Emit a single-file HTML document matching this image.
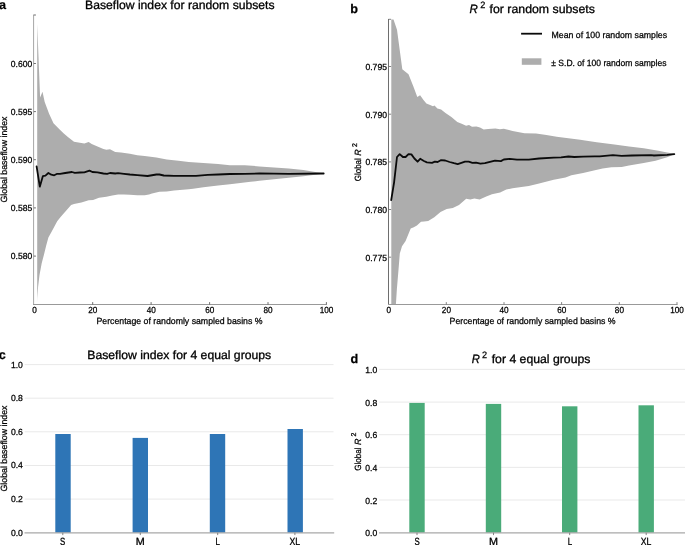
<!DOCTYPE html>
<html lang="en"><head><meta charset="utf-8"><title>Random subsets and equal groups</title>
<style>
html,body{margin:0;padding:0;background:#fff;}
body{width:685px;height:545px;overflow:hidden;}
svg{display:block;}
text{font-family:"Liberation Sans", sans-serif;text-rendering:geometricPrecision;fill:#000;stroke:#000;stroke-width:0.25px;}
.t{font-size:12.0px;stroke-width:0.3px;}
.s{font-size:8.8px;}
.s2{font-size:8.9px;}
.l{font-size:9.0px;stroke-width:0.25px;}
.c{font-size:10.5px;stroke-width:0.3px;}
.b{font-size:12.6px;font-weight:bold;fill:#000;}
.i{font-style:italic;}
</style></head><body>
<svg width="685" height="545" viewBox="0 0 685 545">
<rect width="685" height="545" fill="#fff"/>
<g id="panel-a">
<polygon points="37.2,24.0 40.1,97.6 42.5,91.7 44.7,102.0 49.1,113.8 53.5,123.3 59.4,129.2 63.8,133.6 68.2,137.3 74.0,141.7 79.9,142.7 84.3,143.4 88.7,142.0 91.7,143.9 97.5,146.4 103.4,149.0 106.4,149.8 110.0,149.3 115.2,152.0 121.0,152.4 129.9,153.7 137.3,155.3 144.7,156.1 156.4,157.6 166.7,159.4 178.5,160.8 188.7,162.0 203.4,163.0 218.1,164.1 229.9,165.2 244.7,165.2 259.4,166.4 274.0,167.4 288.7,168.5 303.4,169.9 315.2,171.9 323.7,173.3 323.7,173.6 315.2,174.8 303.4,176.3 288.7,177.7 274.0,179.2 259.4,180.7 250.6,181.8 240.3,182.9 229.9,184.3 218.1,185.5 203.4,187.3 193.1,188.7 188.7,189.2 174.0,190.6 166.7,191.4 159.4,191.7 152.0,193.4 149.0,194.6 144.7,195.3 137.3,195.3 129.9,194.8 124.0,194.5 118.1,194.5 112.2,195.5 106.4,196.7 99.0,197.7 93.1,199.9 88.7,200.2 81.4,202.6 74.0,204.0 71.1,205.0 65.2,211.7 60.8,216.8 57.2,221.2 52.0,231.0 48.4,237.5 46.2,245.6 44.0,254.4 41.7,263.2 39.5,275.0 38.1,286.7 37.3,298.4 37.2,303.6" fill="#adadad"/>
<polyline points="36.6,166.4 39.8,186.7 42.9,176.1 45.4,175.7 48.4,173.0 51.3,174.7 54.2,175.3 57.2,173.8 60.1,173.9 65.2,173.0 71.9,172.0 74.8,172.9 79.9,172.5 84.3,172.3 89.5,170.6 92.4,172.0 97.5,172.3 103.4,173.5 107.1,173.9 110.0,173.0 115.2,173.5 118.1,173.2 124.0,173.8 129.9,174.5 137.3,175.2 147.6,176.0 156.4,174.5 159.4,174.5 163.8,175.5 174.0,175.8 188.7,175.8 196.0,175.8 207.8,174.8 218.1,174.5 229.9,174.0 244.7,173.9 259.4,173.5 274.0,173.6 288.7,173.8 323.7,173.5" fill="none" stroke="#0a0a0a" stroke-width="1.8" stroke-linejoin="round" stroke-linecap="round"/>
<path d="M33.6,14.6V305.0" fill="none" stroke="#a6a6a6" stroke-width="1"/>
<path d="M33.1,304.5H326.8" fill="none" stroke="#999" stroke-width="1"/>
<path d="M33.8,15.0h2.1M33.8,63.5h2.1M33.8,111.6h2.1M33.8,159.7h2.1M33.8,207.9h2.1M33.8,256.1h2.1M92.7,304.5v-2.4M151.1,304.5v-2.4M209.6,304.5v-2.4M268.0,304.5v-2.4M326.4,304.5v-2.4" fill="none" stroke="#4a4a4a" stroke-width="0.8"/>
<text x="32.2" y="66.8" class="s" text-anchor="end" textLength="21.4" lengthAdjust="spacingAndGlyphs">0.600</text>
<text x="32.2" y="114.89999999999999" class="s" text-anchor="end" textLength="21.4" lengthAdjust="spacingAndGlyphs">0.595</text>
<text x="32.2" y="163.0" class="s" text-anchor="end" textLength="21.4" lengthAdjust="spacingAndGlyphs">0.590</text>
<text x="32.2" y="211.20000000000002" class="s" text-anchor="end" textLength="21.4" lengthAdjust="spacingAndGlyphs">0.585</text>
<text x="32.2" y="259.40000000000003" class="s" text-anchor="end" textLength="21.4" lengthAdjust="spacingAndGlyphs">0.580</text>
<text x="34.4" y="312.7" class="s2" text-anchor="middle" textLength="4.55" lengthAdjust="spacingAndGlyphs">0</text>
<text x="92.8" y="312.7" class="s2" text-anchor="middle" textLength="9.1" lengthAdjust="spacingAndGlyphs">20</text>
<text x="151.2" y="312.7" class="s2" text-anchor="middle" textLength="9.1" lengthAdjust="spacingAndGlyphs">40</text>
<text x="209.7" y="312.7" class="s2" text-anchor="middle" textLength="9.1" lengthAdjust="spacingAndGlyphs">60</text>
<text x="268.1" y="312.7" class="s2" text-anchor="middle" textLength="9.1" lengthAdjust="spacingAndGlyphs">80</text>
<text x="326.5" y="312.7" class="s2" text-anchor="middle" textLength="13.649999999999999" lengthAdjust="spacingAndGlyphs">100</text>
<text x="179.5" y="324.0" class="l" text-anchor="middle" textLength="166" lengthAdjust="spacingAndGlyphs">Percentage of randomly sampled basins %</text>
<text class="l" text-anchor="middle" textLength="86" lengthAdjust="spacingAndGlyphs" transform="translate(7.2,159.5) rotate(-90)">Global baseflow index</text>
<text x="85.1" y="9.1" class="t" textLength="189.5" lengthAdjust="spacingAndGlyphs">Baseflow index for random subsets</text>
<text x="-1.0" y="8.7" class="b">a</text>
</g>
<g id="panel-b">
<polygon points="391.3,19.4 393.5,19.4 397.0,29.7 402.3,69.3 408.5,74.2 413.2,86.0 417.3,97.0 420.1,95.3 423.5,100.0 426.4,103.6 430.1,105.1 433.0,106.3 434.5,105.5 437.4,108.5 441.1,109.5 445.5,112.9 451.4,116.9 457.3,122.0 461.7,123.8 466.1,125.7 469.0,124.9 472.0,126.7 476.4,126.4 480.0,127.6 483.7,129.6 488.1,129.0 495.4,128.6 499.9,129.3 503.8,128.8 512.6,130.9 524.4,133.2 536.1,133.5 546.4,135.0 556.7,136.7 568.4,138.2 580.2,139.8 585.0,140.5 596.7,142.3 614.4,144.5 629.0,146.4 643.7,148.2 658.4,150.8 667.2,152.6 674.3,153.8 674.3,154.3 667.2,157.3 655.5,160.7 643.7,162.9 629.0,165.5 621.7,167.0 611.4,167.3 602.6,168.4 593.8,170.6 583.1,173.1 571.4,175.3 565.5,177.5 553.7,179.7 539.1,183.4 528.8,186.1 521.4,187.1 512.5,188.3 506.3,189.5 500.1,192.6 491.9,194.3 485.7,196.7 479.6,199.4 474.4,198.4 470.3,199.4 466.2,198.8 459.0,205.0 452.8,208.0 446.7,209.1 440.5,212.1 434.3,217.3 428.2,221.0 424.1,221.4 421.0,221.8 416.9,225.5 413.8,227.2 410.7,228.6 405.6,240.9 402.0,246.2 399.8,253.5 398.4,271.1 396.9,288.7 395.9,304.2 391.3,304.2" fill="#adadad"/>
<polyline points="391.2,200.2 394.1,182.3 397.0,157.0 399.7,154.1 402.9,157.0 405.6,157.0 408.5,154.1 411.4,154.4 414.4,158.5 417.6,161.7 420.2,158.8 423.9,161.0 426.9,162.4 432.0,162.9 434.9,161.7 437.6,162.0 440.8,160.2 445.2,160.5 449.6,162.0 454.0,163.2 457.7,164.1 461.4,162.9 465.0,161.7 468.7,161.7 472.4,162.9 476.0,162.6 480.4,163.6 484.9,163.2 495.0,160.7 500.9,161.1 503.8,159.5 509.7,158.8 517.0,159.6 528.8,159.6 539.1,158.5 553.7,157.7 561.1,157.3 568.4,156.5 574.3,157.0 583.1,156.7 594.9,156.3 599.7,156.3 612.9,155.2 621.7,155.8 632.0,155.5 651.1,155.1 654.0,155.5 667.2,154.8 674.3,154.1" fill="none" stroke="#0a0a0a" stroke-width="1.8" stroke-linejoin="round" stroke-linecap="round"/>
<path d="M388.5,18.900000000000002V305.0" fill="none" stroke="#6e6e6e" stroke-width="1"/>
<path d="M388,304.5H677.5" fill="none" stroke="#999" stroke-width="1"/>
<path d="M389,19.3h2.1M389,66.5h2.1M389,114.2h2.1M389,161.9h2.1M389,209.5h2.1M389,257.2h2.1M446.3,304.5v-2.4M504.0,304.5v-2.4M561.6,304.5v-2.4M619.3,304.5v-2.4M677.0,304.5v-2.4" fill="none" stroke="#666" stroke-width="0.8"/>
<text x="387.0" y="69.8" class="s" text-anchor="end" textLength="21.6" lengthAdjust="spacingAndGlyphs">0.795</text>
<text x="387.0" y="117.5" class="s" text-anchor="end" textLength="21.6" lengthAdjust="spacingAndGlyphs">0.790</text>
<text x="387.0" y="165.20000000000002" class="s" text-anchor="end" textLength="21.6" lengthAdjust="spacingAndGlyphs">0.785</text>
<text x="387.0" y="212.8" class="s" text-anchor="end" textLength="21.6" lengthAdjust="spacingAndGlyphs">0.780</text>
<text x="387.0" y="260.5" class="s" text-anchor="end" textLength="21.6" lengthAdjust="spacingAndGlyphs">0.775</text>
<text x="388.7" y="312.7" class="s2" text-anchor="middle" textLength="4.55" lengthAdjust="spacingAndGlyphs">0</text>
<text x="446.4" y="312.7" class="s2" text-anchor="middle" textLength="9.1" lengthAdjust="spacingAndGlyphs">20</text>
<text x="504.1" y="312.7" class="s2" text-anchor="middle" textLength="9.1" lengthAdjust="spacingAndGlyphs">40</text>
<text x="561.7" y="312.7" class="s2" text-anchor="middle" textLength="9.1" lengthAdjust="spacingAndGlyphs">60</text>
<text x="619.4" y="312.7" class="s2" text-anchor="middle" textLength="9.1" lengthAdjust="spacingAndGlyphs">80</text>
<text x="677.1" y="312.7" class="s2" text-anchor="middle" textLength="13.649999999999999" lengthAdjust="spacingAndGlyphs">100</text>
<text x="532.6" y="324.0" class="l" text-anchor="middle" textLength="166" lengthAdjust="spacingAndGlyphs">Percentage of randomly sampled basins %</text>
<g transform="translate(361.3,181.3) rotate(-90)"><text class="l" x="0" y="0" textLength="23.1" lengthAdjust="spacingAndGlyphs">Global</text><text class="l i" x="25.5" y="0">R</text><text x="34.2" y="-4.7" font-size="7">2</text></g>
<text x="469.6" y="12.7" class="t i" textLength="8.3" lengthAdjust="spacingAndGlyphs">R</text>
<text x="480.3" y="8.2" font-size="9.2" textLength="5.1" lengthAdjust="spacingAndGlyphs" stroke-width="0.2">2</text>
<text x="489.6" y="12.7" class="t" textLength="105.3" lengthAdjust="spacingAndGlyphs">for random subsets</text>
<text x="350.2" y="13.3" class="b">b</text>
<path d="M521.1,33.7H542" stroke="#0a0a0a" stroke-width="1.8" fill="none"/>
<rect x="521.8" y="58.3" width="19.6" height="6.5" fill="#adadad"/>
<text x="551.5" y="37.5" class="l" textLength="115.6" lengthAdjust="spacingAndGlyphs">Mean of 100 random samples</text>
<text x="551.3" y="65.5" class="l" textLength="115.2" lengthAdjust="spacingAndGlyphs">± S.D. of 100 random samples</text>
</g>
<g id="panel-c">
<path d="M24.7,364.6H333.5M24.7,398.2H333.5M24.7,431.8H333.5M24.7,465.5H333.5M24.7,499.1H333.5" stroke="#e7e7e7" stroke-width="0.9" fill="none"/>
<rect x="55.3" y="434.0" width="15.4" height="98.7" fill="#2e75b6"/>
<rect x="132.6" y="437.9" width="15.4" height="94.8" fill="#2e75b6"/>
<rect x="209.8" y="434.0" width="15.4" height="98.7" fill="#2e75b6"/>
<rect x="287.5" y="429.0" width="15.4" height="103.7" fill="#2e75b6"/>
<path d="M24.5,532.8000000000001H334.2" stroke="#a8a8a8" stroke-width="1.3" fill="none"/>
<path d="M62.8,532.7v2.4M140.3,532.7v2.4M217.7,532.7v2.4M294.9,532.7v2.4" stroke="#777" stroke-width="0.9" fill="none"/>
<text x="22.9" y="367.5" class="s" text-anchor="end" textLength="12.0" lengthAdjust="spacingAndGlyphs">1.0</text>
<text x="22.9" y="401.09999999999997" class="s" text-anchor="end" textLength="12.0" lengthAdjust="spacingAndGlyphs">0.8</text>
<text x="22.9" y="434.7" class="s" text-anchor="end" textLength="12.0" lengthAdjust="spacingAndGlyphs">0.6</text>
<text x="22.9" y="468.4" class="s" text-anchor="end" textLength="12.0" lengthAdjust="spacingAndGlyphs">0.4</text>
<text x="22.9" y="502.0" class="s" text-anchor="end" textLength="12.0" lengthAdjust="spacingAndGlyphs">0.2</text>
<text x="22.9" y="535.6" class="s" text-anchor="end" textLength="12.0" lengthAdjust="spacingAndGlyphs">0.0</text>
<text x="62.7" y="544.9" class="c" text-anchor="middle" textLength="5.2" lengthAdjust="spacingAndGlyphs">S</text>
<text x="140.3" y="544.9" class="c" text-anchor="middle" textLength="9.0" lengthAdjust="spacingAndGlyphs">M</text>
<text x="217.8" y="544.9" class="c" text-anchor="middle" textLength="4.4" lengthAdjust="spacingAndGlyphs">L</text>
<text x="294.8" y="544.9" class="c" text-anchor="middle" textLength="10.6" lengthAdjust="spacingAndGlyphs">XL</text>
<text class="l" text-anchor="middle" textLength="86" lengthAdjust="spacingAndGlyphs" transform="translate(7.2,448.5) rotate(-90)">Global baseflow index</text>
<text x="87.3" y="358.8" class="t" textLength="183.9" lengthAdjust="spacingAndGlyphs">Baseflow index for 4 equal groups</text>
<text x="-1.2" y="358.8" class="b">c</text>
</g>
<g id="panel-d">
<path d="M379.1,369.4H685M379.1,402.1H685M379.1,434.7H685M379.1,467.4H685M379.1,500.0H685" stroke="#e7e7e7" stroke-width="0.9" fill="none"/>
<rect x="409.3" y="402.9" width="15.4" height="129.8" fill="#4aab79"/>
<rect x="485.8" y="403.9" width="15.4" height="128.8" fill="#4aab79"/>
<rect x="562.0" y="406.3" width="15.4" height="126.4" fill="#4aab79"/>
<rect x="638.5" y="405.3" width="15.4" height="127.4" fill="#4aab79"/>
<path d="M379.0,532.8000000000001H685" stroke="#a8a8a8" stroke-width="1.3" fill="none"/>
<path d="M417,532.7v2.4M493.5,532.7v2.4M569.7,532.7v2.4M646.2,532.7v2.4" stroke="#777" stroke-width="0.9" fill="none"/>
<text x="377.2" y="372.9" class="s" text-anchor="end" textLength="12.0" lengthAdjust="spacingAndGlyphs">1.0</text>
<text x="377.2" y="405.6" class="s" text-anchor="end" textLength="12.0" lengthAdjust="spacingAndGlyphs">0.8</text>
<text x="377.2" y="438.2" class="s" text-anchor="end" textLength="12.0" lengthAdjust="spacingAndGlyphs">0.6</text>
<text x="377.2" y="470.9" class="s" text-anchor="end" textLength="12.0" lengthAdjust="spacingAndGlyphs">0.4</text>
<text x="377.2" y="503.5" class="s" text-anchor="end" textLength="12.0" lengthAdjust="spacingAndGlyphs">0.2</text>
<text x="377.2" y="536.2" class="s" text-anchor="end" textLength="12.0" lengthAdjust="spacingAndGlyphs">0.0</text>
<text x="417" y="544.9" class="c" text-anchor="middle" textLength="5.2" lengthAdjust="spacingAndGlyphs">S</text>
<text x="493.5" y="544.9" class="c" text-anchor="middle" textLength="9.0" lengthAdjust="spacingAndGlyphs">M</text>
<text x="569.9" y="544.9" class="c" text-anchor="middle" textLength="4.4" lengthAdjust="spacingAndGlyphs">L</text>
<text x="646.0" y="544.9" class="c" text-anchor="middle" textLength="10.6" lengthAdjust="spacingAndGlyphs">XL</text>
<g transform="translate(361.0,470.8) rotate(-90)"><text class="l" x="0" y="0" textLength="23.4" lengthAdjust="spacingAndGlyphs">Global</text><text class="l i" x="25.8" y="0">R</text><text x="34.2" y="-4.6" font-size="7">2</text></g>
<text x="471.8" y="362.8" class="t i" textLength="8.1" lengthAdjust="spacingAndGlyphs">R</text>
<text x="482.0" y="358.3" font-size="9.2" textLength="5.1" lengthAdjust="spacingAndGlyphs" stroke-width="0.2">2</text>
<text x="491.7" y="362.8" class="t" textLength="98.7" lengthAdjust="spacingAndGlyphs">for 4 equal groups</text>
<text x="350.4" y="363.3" class="b">d</text>
</g>
</svg></body></html>
